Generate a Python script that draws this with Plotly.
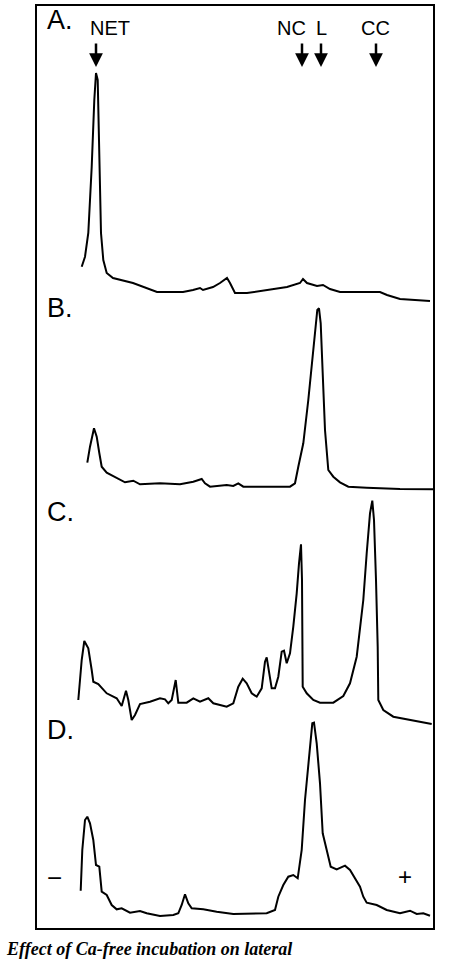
import plotly.graph_objects as go

a_pos = [81.7, 85, 88.3, 91.7, 94.3, 96, 97.7, 99.3, 101, 103.3, 106.7, 113, 133, 157, 183, 193, 200, 203, 213, 220, 227, 230, 235, 247, 267, 287, 300, 303, 307, 317, 323, 330, 340, 380, 387, 400, 430]
a_sig = [38.3, 48.3, 72, 138, 205, 232, 225, 155, 72, 45, 32, 27, 22, 13, 13, 15, 17, 15, 18, 22, 27, 22, 12, 12, 15, 18, 22, 26, 22, 19, 20, 16, 13, 13, 10, 6, 4]

b_pos = [87.3, 90, 94, 96.7, 99.3, 101.7, 106.7, 116.7, 125, 133.3, 140, 160, 180, 193.3, 201.7, 205, 210, 226.7, 233.3, 238.3, 243.3, 290, 295, 298.3, 303.3, 308.3, 313.3, 317.3, 319, 320.7, 322.7, 325, 328.3, 333.3, 340, 348.3, 366.7, 400, 433.3]
b_sig = [32.3, 48.3, 66.7, 58.3, 42, 28.3, 22.3, 16.7, 12.7, 14.3, 10.7, 11.7, 10.7, 13.3, 16, 11.7, 8.3, 10, 9, 11.7, 8.3, 8.3, 11.7, 28.3, 51.7, 95, 148.3, 185, 186.7, 171.7, 121.7, 65, 25, 18.3, 12.7, 8.3, 7.3, 6, 5.7]

c_pos = [78.3, 81.7, 84.3, 88.3, 91.7, 93.3, 98.3, 106.7, 116.7, 121.7, 126, 128.3, 131.7, 135, 140, 150, 160, 165, 168.3, 171.7, 175.7, 178.3, 186.7, 193.3, 200, 208.3, 213.3, 226.7, 233.3, 238.3, 242.7, 246.7, 251.7, 256.7, 261.7, 265, 266.7, 269.3, 271.7, 275, 278.3, 281.7, 284, 286.7, 290, 293.3, 296.7, 299, 301, 302, 302.7, 306.7, 313.3, 320, 333.3, 343.3, 350, 356.7, 363.3, 366.7, 370, 372.3, 374, 376, 377.7, 378.3, 383.3, 393.3, 406.7, 423.3, 431.7]
c_sig = [30, 70, 89, 81.7, 60, 48.3, 46, 36.7, 31.7, 24, 39.3, 30, 10, 15, 26, 28.3, 31.7, 30.7, 26.7, 30, 50, 27.3, 27.3, 31.7, 28.3, 31.7, 26.7, 23.3, 26.7, 43.3, 51.3, 46.7, 36.7, 33.3, 41.7, 68.3, 72.7, 56.7, 41.7, 41.7, 53.3, 78.3, 79.3, 66.7, 76.7, 103.3, 136.7, 166.7, 185.7, 150, 43.3, 36.7, 30, 27.3, 27.3, 34, 46.7, 73.3, 130, 176.7, 216.7, 229.3, 210, 150, 83.3, 30, 20, 13.3, 10.7, 7.7, 6]

d_pos = [80.7, 82.3, 85, 87.3, 90, 93.3, 96, 99.3, 101.7, 106.7, 111.7, 116.7, 121.7, 130, 140, 146.7, 160, 173.3, 178.3, 181.7, 185, 188.3, 191.7, 203.3, 216.7, 233.3, 266.7, 275, 278.3, 283.3, 288.3, 293.3, 297.7, 301.7, 305, 309.3, 312.3, 314, 316.7, 320, 322.7, 326.7, 330.7, 336.7, 345, 350, 355, 360, 363.3, 366.7, 376.7, 386.7, 400, 410, 416.7, 423.3, 430]
d_sig = [34.3, 75, 105, 108.3, 101.7, 85, 60, 58.3, 33.3, 30, 20, 15.7, 16.7, 12.3, 14, 11.7, 9, 10, 11.7, 20, 30.7, 21.7, 16.7, 15.7, 13.3, 11, 11.7, 15, 28.3, 40, 48.3, 50, 46.7, 75, 125, 171.7, 201.7, 202.3, 181.7, 141.7, 91.7, 75, 58.3, 55.7, 59.3, 55, 46.7, 38.3, 28.3, 22.3, 20, 15, 11.7, 14.3, 11, 11.7, 9.3]

panel_labels = ["A.", "B.", "C.", "D."]
marker_names = ["NET", "NC", "L", "CC"]
marker_pos = [96, 302, 321, 376]
marker_label_pos = [110, 291.5, 321.5, 375]
caption = "Effect of Ca-free incubation on lateral"

W, H = 462, 962
# panel windows on the page (top px, bottom px) — layout only
panels = [(20, 305), (300, 495), (495, 730), (715, 925)]
label_y = [20, 308, 512, 730]

fig = go.Figure()
series = [(a_pos, a_sig), (b_pos, b_sig), (c_pos, c_sig), (d_pos, d_sig)]
for i, (xs, ys) in enumerate(series):
    fig.add_trace(go.Scatter(x=xs, y=ys, mode="lines", yaxis=f"y{i+2}", xaxis="x",
                             line=dict(color="black", width=2), hoverinfo="skip",
                             showlegend=False))

layout_axes = {}
for i, (top, bot) in enumerate(panels):
    layout_axes[f"yaxis{i+2}"] = dict(domain=[1 - bot / H, 1 - top / H], range=[0, bot - top],
                                      visible=False, fixedrange=True)

fig.update_layout(
    width=W, height=H, margin=dict(l=0, r=0, t=0, b=0),
    paper_bgcolor="white", plot_bgcolor="rgba(0,0,0,0)",
    xaxis=dict(range=[0, W], visible=False, domain=[0, 1]),
    yaxis=dict(range=[H, 0], visible=False, domain=[0, 1]),
    **layout_axes,
)

# frame
fig.add_shape(type="rect", xref="x", yref="y", x0=36, x1=434, y0=5, y1=929,
              line=dict(color="black", width=2))

font = "Liberation Sans, Arial, sans-serif"
for lab, ly in zip(panel_labels, label_y):
    fig.add_annotation(x=45, y=ly, xref="x", yref="y", text=lab, showarrow=False,
                       xanchor="left", yanchor="middle", font=dict(family=font, size=27, color="black"))

for name, px, lx in zip(marker_names, marker_pos, marker_label_pos):
    fig.add_annotation(x=lx, y=28, xref="x", yref="y", text=name, showarrow=False,
                       xanchor="center", yanchor="middle", font=dict(family=font, size=20, color="black"))
    fig.add_annotation(x=px, y=67, xref="x", yref="y", ax=px, ay=42, axref="x", ayref="y",
                       text="", showarrow=True, arrowhead=2, arrowsize=1.1, arrowwidth=2.5,
                       arrowcolor="black")

fig.add_annotation(x=54, y=878, xref="x", yref="y", text="−", showarrow=False,
                   xanchor="center", yanchor="middle", font=dict(family=font, size=26, color="black"))
fig.add_annotation(x=405, y=876, xref="x", yref="y", text="+", showarrow=False,
                   xanchor="center", yanchor="middle", font=dict(family=font, size=24, color="black"))

fig.add_annotation(x=4 / W, y=1 - 937 / H, xref="paper", yref="paper",
                   text=f"<b><i>{caption}</i></b>", showarrow=False,
                   xanchor="left", yanchor="top",
                   font=dict(family="Liberation Serif, Times New Roman, serif", size=18, color="black"))

fig.write_html("out.html", config={"displayModeBar": False, "staticPlot": True},
               post_script="document.body.style.margin='0';document.body.style.overflow='hidden';")
